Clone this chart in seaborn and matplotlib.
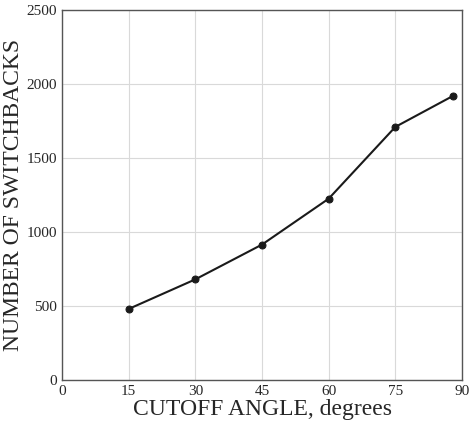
import matplotlib
matplotlib.use("Agg")
import matplotlib.pyplot as plt
import seaborn as sns
import pandas as pd

angles = [15, 30, 45, 60, 75, 88]
switchbacks = [480, 680, 915, 1225, 1710, 1920]
xticks = [0, 15, 30, 45, 60, 75, 90]
yticks = [0, 500, 1000, 1500, 2000, 2500]

sns.set_style("white")
plt.rcParams['font.family'] = ['Liberation Serif', 'DejaVu Serif']

df = pd.DataFrame({"angle": angles, "n": switchbacks})
fig = plt.figure(figsize=(4.74, 4.24), dpi=100)
ax = fig.add_axes([62/474, 44/424, 400/474, 370/424])
sns.lineplot(data=df, x="angle", y="n", ax=ax, color="#1a1a1a", marker="o",
             markersize=5, markeredgecolor="#1a1a1a", linewidth=1.5)
ax.set_xlim(0, 90)
ax.set_ylim(0, 2500)
ax.set_xticks(xticks)
ax.set_yticks(yticks)
ax.grid(True, color="#d9d9d9", linewidth=0.8)
ax.tick_params(direction="in", labelsize=11, length=5)
ax.minorticks_on()
ax.tick_params(which="minor", direction="in", length=3)
for s in ax.spines.values():
    s.set_color("#555555")
    s.set_linewidth(1)
ax.set_xlabel("CUTOFF ANGLE, degrees", fontsize=17, labelpad=1)
ax.set_ylabel("NUMBER OF SWITCHBACKS", fontsize=17, labelpad=2)
fig.savefig("out.png", dpi=100)
